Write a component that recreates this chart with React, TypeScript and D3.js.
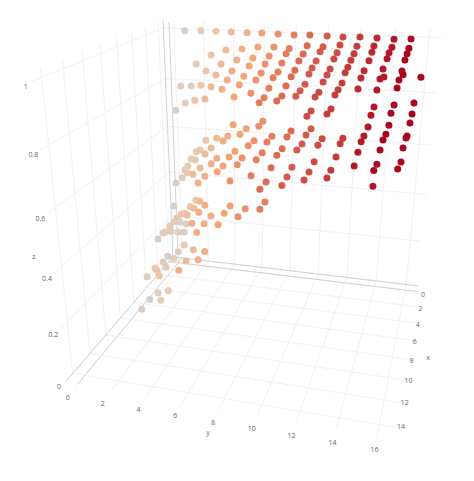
import React from 'react';
import * as d3 from 'd3';
const P=[-8.110915,12.24070,-1.924978,178.3378,1.692415,0.3182056,-15.73402,262.8033,-0.0169102,-0.00477656,-0.00781982];
const yVals=[1,2,3,4,5,6,7,8,9,10,11,12,13,14,15,16];
const x16=[4.4,8.7,9.5,10.5,11.8,12.4,13.8,14.3,15.9];
const z16=[.924,.905,.885,.875,.861,.866,.865,.837,.852];
const x15=[-0.3,0.8,1.9,3.1,4.6,3.6,6.1,6.9,7.9,9.3,9.9,11.1,12.3,13.3,14.2,15.3];
const z15=[.997,.976,.969,.962,.944,.919,.935,.921,.883,.880,.854,.849,.854,.845,.824,.830];
const x14=[-0.5,0.4,1.9,2.8,4.6,3.8,5.8,6.9,5.6,7.7,8.8,9.7,11.1,12.0,12.9,13.9];
const z14=[.992,.973,.970,.960,.948,.911,.931,.911,.563,.870,.862,.841,.839,.839,.826,.808];
const x13=[-0.5,0.8,1.6,2.7,4.6,5.7,6.6];
const z13=[.994,.979,.966,.949,.939,.930,.907];
const x12=[-0.4,0.7,1.7,2.8,3.8,4.7,5.6,6.8,7.7,8.7,9.8,4.3,5.2,6.4,7.9,9.0];
const z12=[.996,.975,.959,.950,.938,.931,.909,.904,.900,.872,.874,.699,.696,.673,.658,.656];
const x11=[-0.3,0.7,1.6,2.6,3.7,4.6,5.7,6.8,7.8,8.7,9.7,5.3,6.5,7.4,8.7,9.9];
const z11=[.995,.977,.959,.949,.928,.919,.911,.893,.892,.862,.862,.711,.711,.672,.664,.664];
const x10=[-0.5,0.7,1.6,2.7,3.8,4.6,5.6,6.8,7.8,3.5,4.9,5.9,7.2,8.3,9.4,10.5];
const z10=[.995,.968,.960,.941,.930,.920,.899,.894,.891,.710,.713,.699,.703,.667,.657,.654];
const x9=[-0.2,0.5,1.6,2.7,3.7,4.6,5.8,6.7,7.8,4.3,5.3,6.4,7.6,8.8,9.8,11.0];
const z9=[.999,.967,.950,.938,.918,.907,.892,.872,.872,.712,.708,.687,.688,.670,.644,.647];
const x8=[-0.3,0.9,1.7,2.7,3.6,4.7,5.6,6.6,7.6,4.8,5.9,6.9,8.1,9.1,6.2,7.3];
const z8=[.996,.959,.949,.928,.908,.902,.879,.861,.860,.698,.697,.678,.678,.644,.484,.484];
const x7=[-0.3,0.7,1.8,2.7,3.6,4.7,5.7,3.1,4.0,5.0,6.2,7.4,8.3,9.6,6.8,8.2];
const z7=[.998,.960,.940,.922,.901,.891,.860,.719,.716,.680,.685,.665,.660,.632,.467,.472];
const x6=[-0.2,0.7,1.8,2.6,3.7,4.6,5.6,5.8,3.2,4.5,5.5,6.6,7.7,8.7,6.5,7.6,8.7];
const z6=[1.0,.958,.930,.911,.888,.870,.842,.748,.688,.691,.647,.648,.638,.639,.464,.464,.449];
const x5=[-0.4,0.7,1.8,2.8,3.7,4.7,3.7,4.6,5.8,6.8,7.9,9.0,7.0,8.2,9.4,8.0,9.0,10.1,8.2,9.3,12.2];
const z5=[.997,.948,.920,.892,.872,.853,.665,.663,.622,.622,.600,.601,.432,.433,.433,.497,.496,.485,.328,.328,.377];
const x4=[-0.3,0.8,1.8,2.8,3.7,4.8,2.8,3.9,5.0,5.9,7.1,6.1,7.1,8.2,7.4,8.6];
const z4=[.999,.943,.903,.875,.844,.816,.636,.619,.617,.583,.585,.460,.458,.460,.304,.295];
const x3=[-0.3,0.7,1.7,2.7,3.8,2.0,3.1,4.0,5.4,4.1,5.1,6.0,6.6,7.3,9.2,10.5,10.2];
const z3=[1.0,.921,.873,.833,.793,.609,.591,.570,.549,.410,.408,.405,.417,.418,.282,.309,.279];
const x2=[-0.3,0.7,1.7,2.8,1.1,2.1,2.7,3.2,6.0,5.9,6.8,5.6,8.5,6.7,7.9];
const z2=[1.0,.884,.813,.764,.540,.530,.513,.508,.347,.323,.344,.202,.249,.098,.097];
const x1=[-0.1,0.9,1.9,1.2,2.3,2.8,4.8,2.9,1.9,0.8,2.3,1.2,5.6,1.3,2.4,4.2,5.0,7.5,6.0,7.3,8.5];
const z1=[1.0,.798,.718,.427,.429,.343,.279,.277,.250,.213,.216,.187,.276,.130,.130,.162,.161,.174,.057,.072,.071];
const seriesX=[x1,x2,x3,x4,x5,x6,x7,x8,x9,x10,x11,x12,x13,x14,x15,x16];
const seriesZ=[z1,z2,z3,z4,z5,z6,z7,z8,z9,z10,z11,z12,z13,z14,z15,z16];
const xTicks=[0,2,4,6,8,10,12,14],yTicks=[0,2,4,6,8,10,12,14,16],zTicks=[0,.2,.4,.6,.8,1];
const xR=[-.8,14.8],yR=[-.73,16.73],zR=[0,1.03];
const zS=d3.scaleLinear().domain([0,1]).range([0,15]);
const pr=(x:number,y:number,zz:number)=>{const z=zS(zz);const w=P[8]*x+P[9]*y+P[10]*z+1;return [(P[0]*x+P[1]*y+P[2]*z+P[3])/w,(P[4]*x+P[5]*y+P[6]*z+P[7])/w,w];};
const col=d3.scaleLinear<string>().domain([0,3,6,9,12,15]).range(['#d2d2d2','#ecc6ac','#f2a477','#dc6b52','#c43c3c','#a8071f']).interpolate(d3.interpolateRgb).clamp(true);
const line3=(a:number[],b:number[],k:string,c:string,sw=1)=>{const A=pr(a[0],a[1],a[2]),B=pr(b[0],b[1],b[2]);return <line key={k} x1={A[0]} y1={A[1]} x2={B[0]} y2={B[1]} stroke={c} strokeWidth={sw}/>};
const GRID='#f1f1f3',TICK='#f7f7f8',AX='#d2d2d6';
const pts=seriesX.flatMap((xs,i)=>xs.map((x,j)=>{const q=pr(x,yVals[i],seriesZ[i][j]);return {u:q[0],v:q[1],w:q[2],c:col(yVals[i])};})).sort((a,b)=>b.w-a.w);
const font='"Open Sans",sans-serif';
const Lab=({p,t,dx=0,dy=0}:{p:number[],t:string,dx?:number,dy?:number})=><text x={p[0]+dx} y={p[1]+dy} fontSize={7} fill="#555" fontFamily={font} textAnchor="middle" dominantBaseline="central">{t}</text>;
export default function App(){return <svg width={474} height={481} style={{position:'absolute',left:0,top:0}}>
{xTicks.map(x=>line3([x,yR[1],0],[x,yR[1]+.3,0],'ta'+x,TICK))}{yTicks.map(y=>line3([xR[1],y,0],[xR[1]+.4,y,0],'tb'+y,TICK))}
{xTicks.map(x=>line3([x,yR[0],0],[x,yR[1],0],'a'+x,GRID))}{yTicks.map(y=>line3([xR[0],y,0],[xR[1],y,0],'b'+y,GRID))}
{zTicks.map(z=>line3([xR[0],yR[0],z],[xR[1],yR[0],z],'c'+z,GRID))}{zTicks.map(z=>line3([xR[0],yR[0],z],[xR[0],yR[1],z],'d'+z,GRID))}
{yTicks.map(y=>line3([xR[0],y,0],[xR[0],y,zR[1]],'e'+y,GRID))}{xTicks.map(x=>line3([x,yR[0],0],[x,yR[0],zR[1]],'f'+x,GRID))}
{line3([xR[0],yR[0],0],[xR[1],yR[0],0],'g1',AX)}{line3([xR[0],0,0],[xR[1],0,0],'g2',AX)}
{line3([xR[0],yR[0],0],[xR[0],yR[1],0],'g3',AX)}{line3([0,yR[0],0],[0,yR[1],0],'g4',AX)}
{line3([xR[0],yR[0],0],[xR[0],yR[0],zR[1]],'g5',AX)}{line3([0,0,0],[0,0,zR[1]],'g6',AX)}
<g opacity={0.9}>
{xTicks.map(x=><Lab key={'lx'+x} p={pr(x,yR[1]+.55,0)} t={String(x)} dx={-2-3*x/14} dy={2-4*x/14}/>)}
{yTicks.map(y=><Lab key={'ly'+y} p={pr(xR[1],y,0)} t={String(y)} dx={-10+7*y/16} dy={14}/>)}
{zTicks.map(z=><Lab key={'lz'+z} p={pr(xR[1],yR[0],z)} t={String(z)} dx={-6.5} dy={5}/>)}
<Lab p={[428,357]} t="x"/><Lab p={[208,432]} t="y"/><Lab p={[34,256]} t="z"/>
</g>
{pts.map((p,i)=><circle key={i} cx={p.u} cy={p.v} r={3.5} fill={p.c}/>)}
</svg>}
